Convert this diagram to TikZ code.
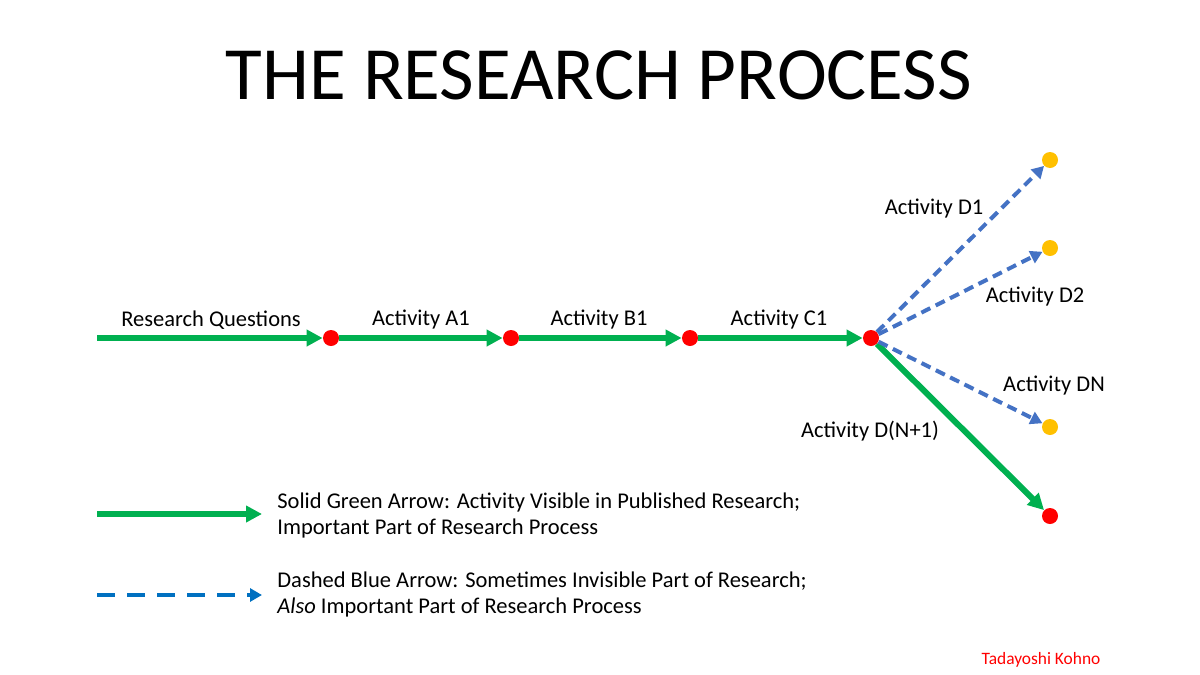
\documentclass[tikz,border=0pt]{standalone}
\usepackage{fontspec}
\setmainfont{Carlito}
\usetikzlibrary{arrows.meta}

\definecolor{arrgreen}{RGB}{0,176,80}
\definecolor{dashblue}{RGB}{68,114,196}
\definecolor{keyblue}{RGB}{0,112,192}
\definecolor{dotred}{RGB}{255,0,0}
\definecolor{dotyellow}{RGB}{255,192,0}

\tikzset{
  dotnode/.style={circle,fill=#1,draw=none,minimum size=8pt,inner sep=0pt},
  greenarrow/.style={draw=arrgreen,line width=2.6pt,-{Triangle[length=8pt,width=8pt]}},
  bluearrow/.style={draw=dashblue,line width=2pt,dash pattern=on 5pt off 3pt,-{Triangle[length=6pt,width=6.5pt]}},
  labeltext/.style={font=\fontsize{11.25}{13}\selectfont,inner sep=0pt}
}

\begin{document}
\begin{tikzpicture}[x=0.5pt,y=0.5pt,yscale=-1,xscale=1]
  \useasboundingbox (0,0) rectangle (1200,675);

  % Title
  \node (title) at (599,75) {\fontsize{37.6}{42}\selectfont THE RESEARCH PROCESS};

  %Shape: Circle [main line]
  \coordinate (start) at (97,338);
  \node[dotnode=dotred] (pa) at (331,338) {};
  \node[dotnode=dotred] (pb) at (511,338) {};
  \node[dotnode=dotred] (pc) at (690,338) {};
  \node[dotnode=dotred] (pd) at (871,338) {};
  %Shape: Circle [ends]
  \node[dotnode=dotyellow] (d1) at (1050,160) {};
  \node[dotnode=dotyellow] (d2) at (1050,248) {};
  \node[dotnode=dotyellow] (dn) at (1050,427) {};
  \node[dotnode=dotred] (dx) at (1050,516) {};

  % Arrows
  \draw[greenarrow] (start) -- (pa);
  \draw[greenarrow] (pa) -- (pb);
  \draw[greenarrow] (pb) -- (pc);
  \draw[greenarrow] (pc) -- (pd);
  \draw[greenarrow,line width=3pt] (pd) -- (dx);
  \draw[bluearrow] (pd) -- (d1);
  \draw[bluearrow] (pd) -- (d2);
  \draw[bluearrow] (pd) -- (dn);

  % Text Node
  \node[labeltext] (lq) at (211,320) {Research Questions};
  % Text Node
  \node[labeltext] (la) at (421,320) {Activity A1};
  % Text Node
  \node[labeltext] (lb) at (599,320) {Activity B1};
  % Text Node
  \node[labeltext] (lc) at (779,320) {Activity C1};
  % Text Node
  \node[labeltext] (ld1) at (934,209) {Activity D1};
  % Text Node
  \node[labeltext] (ld2) at (1035,297) {Activity D2};
  % Text Node
  \node[labeltext] (ldn) at (1054,386) {Activity DN};
  % Text Node
  \node[labeltext] (ldx) at (870,431) {Activity D(N+1)};

  % Legend
  \coordinate (ka) at (97,514);
  \coordinate (kb) at (262,514);
  \coordinate (kc) at (97,595);
  \coordinate (kd) at (262,595);
  \draw[greenarrow] (ka) -- (kb);
  \draw[draw=keyblue,line width=2pt,dash pattern=on 9pt off 6pt,-{Triangle[length=6pt,width=6.5pt]}] (kc) -- (kd);
  % Text Node
  \node[labeltext,anchor=west,align=left] (ktext1) at (277,515) {Solid Green Arrow: Activity Visible in Published Research;\\[0pt]Important Part of Research Process};
  % Text Node
  \node[labeltext,anchor=west,align=left] (ktext2) at (277,594) {Dashed Blue Arrow: Sometimes Invisible Part of Research;\\[0pt]\textit{Also} Important Part of Research Process};

  % Text Node
  \node[font=\fontsize{8.7}{10}\selectfont,text=dotred] (author) at (1041,660) {Tadayoshi Kohno};
\end{tikzpicture}
\end{document}
